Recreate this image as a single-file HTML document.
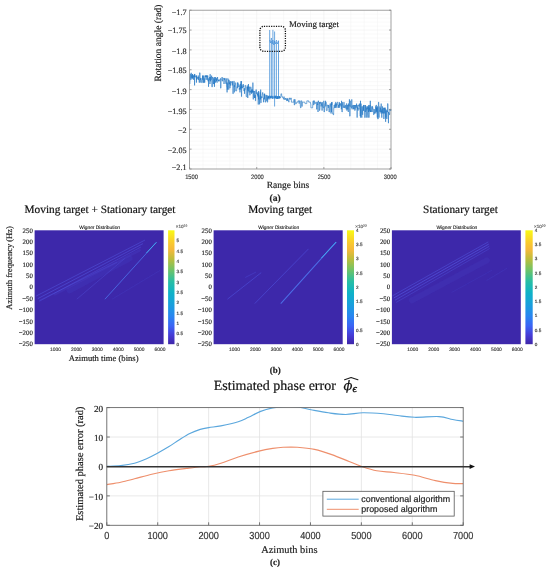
<!DOCTYPE html>
<html><head><meta charset="utf-8"><title>Figure</title>
<style>html,body{margin:0;padding:0;background:#fff;} svg{display:block;} text{text-rendering:geometricPrecision;}</style></head>
<body><svg width="550" height="573" viewBox="0 0 550 573">
<rect width="550" height="573" fill="#fff"/>
<line x1="203.03" y1="10.2" x2="203.03" y2="169.0" stroke="#f3f3f3" stroke-width="0.5"/>
<line x1="216.45" y1="10.2" x2="216.45" y2="169.0" stroke="#f3f3f3" stroke-width="0.5"/>
<line x1="229.88" y1="10.2" x2="229.88" y2="169.0" stroke="#f3f3f3" stroke-width="0.5"/>
<line x1="243.31" y1="10.2" x2="243.31" y2="169.0" stroke="#f3f3f3" stroke-width="0.5"/>
<line x1="270.16" y1="10.2" x2="270.16" y2="169.0" stroke="#f3f3f3" stroke-width="0.5"/>
<line x1="283.59" y1="10.2" x2="283.59" y2="169.0" stroke="#f3f3f3" stroke-width="0.5"/>
<line x1="297.01" y1="10.2" x2="297.01" y2="169.0" stroke="#f3f3f3" stroke-width="0.5"/>
<line x1="310.44" y1="10.2" x2="310.44" y2="169.0" stroke="#f3f3f3" stroke-width="0.5"/>
<line x1="337.29" y1="10.2" x2="337.29" y2="169.0" stroke="#f3f3f3" stroke-width="0.5"/>
<line x1="350.72" y1="10.2" x2="350.72" y2="169.0" stroke="#f3f3f3" stroke-width="0.5"/>
<line x1="364.15" y1="10.2" x2="364.15" y2="169.0" stroke="#f3f3f3" stroke-width="0.5"/>
<line x1="377.57" y1="10.2" x2="377.57" y2="169.0" stroke="#f3f3f3" stroke-width="0.5"/>
<line x1="189.6" y1="14.17" x2="391.0" y2="14.17" stroke="#f3f3f3" stroke-width="0.5"/>
<line x1="189.6" y1="18.14" x2="391.0" y2="18.14" stroke="#f3f3f3" stroke-width="0.5"/>
<line x1="189.6" y1="22.11" x2="391.0" y2="22.11" stroke="#f3f3f3" stroke-width="0.5"/>
<line x1="189.6" y1="26.08" x2="391.0" y2="26.08" stroke="#f3f3f3" stroke-width="0.5"/>
<line x1="189.6" y1="34.02" x2="391.0" y2="34.02" stroke="#f3f3f3" stroke-width="0.5"/>
<line x1="189.6" y1="37.99" x2="391.0" y2="37.99" stroke="#f3f3f3" stroke-width="0.5"/>
<line x1="189.6" y1="41.96" x2="391.0" y2="41.96" stroke="#f3f3f3" stroke-width="0.5"/>
<line x1="189.6" y1="45.93" x2="391.0" y2="45.93" stroke="#f3f3f3" stroke-width="0.5"/>
<line x1="189.6" y1="53.87" x2="391.0" y2="53.87" stroke="#f3f3f3" stroke-width="0.5"/>
<line x1="189.6" y1="57.84" x2="391.0" y2="57.84" stroke="#f3f3f3" stroke-width="0.5"/>
<line x1="189.6" y1="61.81" x2="391.0" y2="61.81" stroke="#f3f3f3" stroke-width="0.5"/>
<line x1="189.6" y1="65.78" x2="391.0" y2="65.78" stroke="#f3f3f3" stroke-width="0.5"/>
<line x1="189.6" y1="73.72" x2="391.0" y2="73.72" stroke="#f3f3f3" stroke-width="0.5"/>
<line x1="189.6" y1="77.69" x2="391.0" y2="77.69" stroke="#f3f3f3" stroke-width="0.5"/>
<line x1="189.6" y1="81.66" x2="391.0" y2="81.66" stroke="#f3f3f3" stroke-width="0.5"/>
<line x1="189.6" y1="85.63" x2="391.0" y2="85.63" stroke="#f3f3f3" stroke-width="0.5"/>
<line x1="189.6" y1="93.57" x2="391.0" y2="93.57" stroke="#f3f3f3" stroke-width="0.5"/>
<line x1="189.6" y1="97.54" x2="391.0" y2="97.54" stroke="#f3f3f3" stroke-width="0.5"/>
<line x1="189.6" y1="101.51" x2="391.0" y2="101.51" stroke="#f3f3f3" stroke-width="0.5"/>
<line x1="189.6" y1="105.48" x2="391.0" y2="105.48" stroke="#f3f3f3" stroke-width="0.5"/>
<line x1="189.6" y1="113.42" x2="391.0" y2="113.42" stroke="#f3f3f3" stroke-width="0.5"/>
<line x1="189.6" y1="117.39" x2="391.0" y2="117.39" stroke="#f3f3f3" stroke-width="0.5"/>
<line x1="189.6" y1="121.36" x2="391.0" y2="121.36" stroke="#f3f3f3" stroke-width="0.5"/>
<line x1="189.6" y1="125.33" x2="391.0" y2="125.33" stroke="#f3f3f3" stroke-width="0.5"/>
<line x1="189.6" y1="133.27" x2="391.0" y2="133.27" stroke="#f3f3f3" stroke-width="0.5"/>
<line x1="189.6" y1="137.24" x2="391.0" y2="137.24" stroke="#f3f3f3" stroke-width="0.5"/>
<line x1="189.6" y1="141.21" x2="391.0" y2="141.21" stroke="#f3f3f3" stroke-width="0.5"/>
<line x1="189.6" y1="145.18" x2="391.0" y2="145.18" stroke="#f3f3f3" stroke-width="0.5"/>
<line x1="189.6" y1="153.12" x2="391.0" y2="153.12" stroke="#f3f3f3" stroke-width="0.5"/>
<line x1="189.6" y1="157.09" x2="391.0" y2="157.09" stroke="#f3f3f3" stroke-width="0.5"/>
<line x1="189.6" y1="161.06" x2="391.0" y2="161.06" stroke="#f3f3f3" stroke-width="0.5"/>
<line x1="189.6" y1="165.03" x2="391.0" y2="165.03" stroke="#f3f3f3" stroke-width="0.5"/>
<line x1="256.73" y1="10.2" x2="256.73" y2="169.0" stroke="#eeeeee" stroke-width="0.6"/>
<line x1="323.87" y1="10.2" x2="323.87" y2="169.0" stroke="#eeeeee" stroke-width="0.6"/>
<line x1="189.6" y1="30.05" x2="391.0" y2="30.05" stroke="#eeeeee" stroke-width="0.6"/>
<line x1="189.6" y1="49.90" x2="391.0" y2="49.90" stroke="#eeeeee" stroke-width="0.6"/>
<line x1="189.6" y1="69.75" x2="391.0" y2="69.75" stroke="#eeeeee" stroke-width="0.6"/>
<line x1="189.6" y1="89.60" x2="391.0" y2="89.60" stroke="#eeeeee" stroke-width="0.6"/>
<line x1="189.6" y1="109.45" x2="391.0" y2="109.45" stroke="#eeeeee" stroke-width="0.6"/>
<line x1="189.6" y1="129.30" x2="391.0" y2="129.30" stroke="#eeeeee" stroke-width="0.6"/>
<line x1="189.6" y1="149.15" x2="391.0" y2="149.15" stroke="#eeeeee" stroke-width="0.6"/>
<polyline points="189.60,84.00 189.73,84.00 189.87,84.00 190.00,78.40 190.14,74.20 190.27,74.20 190.41,74.20 190.54,74.20 190.67,79.80 190.81,79.80 190.94,79.80 191.08,79.80 191.21,72.80 191.35,78.40 191.48,75.60 191.62,75.60 191.75,75.60 191.88,75.60 192.02,75.60 192.15,75.60 192.29,74.20 192.42,78.40 192.56,74.20 192.69,78.40 192.82,78.40 192.96,75.60 193.09,75.60 193.23,75.60 193.36,79.80 193.50,77.00 193.63,75.60 193.77,75.60 193.90,75.60 194.03,75.60 194.17,77.00 194.30,77.00 194.44,74.20 194.57,85.40 194.71,74.20 194.84,74.20 194.97,77.00 195.11,77.00 195.24,77.00 195.38,77.00 195.51,77.00 195.65,77.00 195.78,77.00 195.91,75.60 196.05,75.60 196.18,75.60 196.32,77.00 196.45,82.60 196.59,75.60 196.72,79.80 196.86,79.80 196.99,78.40 197.12,77.00 197.26,78.40 197.39,78.40 197.53,78.40 197.66,78.40 197.80,78.40 197.93,78.40 198.06,78.40 198.20,75.60 198.33,75.60 198.47,79.80 198.60,79.80 198.74,77.00 198.87,79.80 199.00,79.80 199.14,79.80 199.27,82.60 199.41,78.40 199.54,72.80 199.68,72.80 199.81,72.80 199.95,72.80 200.08,72.80 200.21,82.60 200.35,78.40 200.48,79.80 200.62,78.40 200.75,78.40 200.89,78.40 201.02,78.40 201.15,78.40 201.29,78.40 201.42,79.80 201.56,82.60 201.69,82.60 201.83,82.60 201.96,82.60 202.10,82.60 202.23,82.60 202.36,78.40 202.50,78.40 202.63,75.60 202.77,79.80 202.90,75.60 203.04,79.80 203.17,82.60 203.30,82.60 203.44,82.60 203.57,82.60 203.71,77.00 203.84,75.60 203.98,82.60 204.11,78.40 204.24,78.40 204.38,79.80 204.51,79.80 204.65,82.60 204.78,82.60 204.92,78.40 205.05,75.60 205.19,75.60 205.32,75.60 205.45,75.60 205.59,77.00 205.72,77.00 205.86,75.60 205.99,75.60 206.13,79.80 206.26,75.60 206.39,75.60 206.53,75.60 206.66,75.60 206.80,77.00 206.93,75.60 207.07,75.60 207.20,79.80 207.34,79.80 207.47,79.80 207.60,75.60 207.74,75.60 207.87,75.60 208.01,81.20 208.14,81.20 208.28,81.20 208.41,79.80 208.54,86.80 208.68,78.40 208.81,78.40 208.95,79.80 209.08,79.80 209.22,79.80 209.35,79.80 209.48,79.80 209.62,77.00 209.75,77.00 209.89,84.00 210.02,84.00 210.16,74.20 210.29,81.20 210.43,81.20 210.56,81.20 210.69,77.00 210.83,79.80 210.96,79.80 211.10,79.80 211.23,79.80 211.37,77.00 211.50,77.00 211.63,75.60 211.77,86.80 211.90,86.80 212.04,86.80 212.17,86.80 212.31,86.80 212.44,86.80 212.57,77.00 212.71,77.00 212.84,78.40 212.98,78.40 213.11,78.40 213.25,78.40 213.38,84.00 213.52,84.00 213.65,84.00 213.78,84.00 213.92,78.40 214.05,84.00 214.19,84.00 214.32,77.00 214.46,86.80 214.59,79.80 214.72,79.80 214.86,79.80 214.99,79.80 215.13,81.20 215.26,81.20 215.40,81.20 215.53,82.60 215.67,77.00 215.80,79.80 215.93,78.40 216.07,78.40 216.20,79.80 216.34,81.20 216.47,81.20 216.61,78.40 216.74,81.20 216.87,81.20 217.01,82.60 217.14,82.60 217.28,79.80 217.41,79.80 217.55,77.00 217.68,78.40 217.81,79.80 217.95,79.80 218.08,79.80 218.22,79.80 218.35,81.20 218.49,81.20 218.62,79.80 218.76,79.80 218.89,81.20 219.02,81.20 219.16,81.20 219.29,81.20 219.43,79.80 219.56,79.80 219.70,79.80 219.83,79.80 219.96,79.80 220.10,79.80 220.23,79.80 220.37,78.40 220.50,78.40 220.64,88.20 220.77,88.20 220.91,88.20 221.04,81.20 221.17,81.20 221.31,79.80 221.44,79.80 221.58,79.80 221.71,79.80 221.85,78.40 221.98,78.40 222.11,77.00 222.25,79.80 222.38,79.80 222.52,81.20 222.65,81.20 222.79,79.80 222.92,78.40 223.05,78.40 223.19,78.40 223.32,78.40 223.46,78.40 223.59,78.40 223.73,78.40 223.86,78.40 224.00,84.00 224.13,82.60 224.26,78.40 224.40,78.40 224.53,79.80 224.67,78.40 224.80,78.40 224.94,78.40 225.07,78.40 225.20,78.40 225.34,81.20 225.47,81.20 225.61,81.20 225.74,82.60 225.88,82.60 226.01,82.60 226.14,84.00 226.28,78.40 226.41,84.00 226.55,84.00 226.68,86.80 226.82,86.80 226.95,86.80 227.09,92.40 227.22,82.60 227.35,89.60 227.49,89.60 227.62,84.00 227.76,84.00 227.89,78.40 228.03,79.80 228.16,79.80 228.29,79.80 228.43,79.80 228.56,85.40 228.70,89.60 228.83,89.60 228.97,79.80 229.10,81.20 229.24,81.20 229.37,84.00 229.50,84.00 229.64,82.60 229.77,82.60 229.91,88.20 230.04,88.20 230.18,81.20 230.31,85.40 230.44,85.40 230.58,85.40 230.71,85.40 230.85,82.60 230.98,82.60 231.12,81.20 231.25,82.60 231.38,82.60 231.52,82.60 231.65,82.60 231.79,82.60 231.92,82.60 232.06,82.60 232.19,82.60 232.33,85.40 232.46,84.00 232.59,81.20 232.73,86.80 232.86,86.80 233.00,93.80 233.13,93.80 233.27,86.80 233.40,86.80 233.53,86.80 233.67,84.00 233.80,81.20 233.94,81.20 234.07,81.20 234.21,81.20 234.34,92.40 234.47,85.40 234.61,86.80 234.74,85.40 234.88,85.40 235.01,85.40 235.15,82.60 235.28,82.60 235.42,85.40 235.55,85.40 235.68,91.00 235.82,91.00 235.95,91.00 236.09,91.00 236.22,91.00 236.36,91.00 236.49,91.00 236.62,91.00 236.76,86.80 236.89,86.80 237.03,86.80 237.16,86.80 237.30,82.60 237.43,88.20 237.57,88.20 237.70,85.40 237.83,82.60 237.97,82.60 238.10,84.00 238.24,84.00 238.37,84.00 238.51,84.00 238.64,86.80 238.77,86.80 238.91,86.80 239.04,86.80 239.18,85.40 239.31,89.60 239.45,88.20 239.58,88.20 239.71,88.20 239.85,88.20 239.98,92.40 240.12,84.00 240.25,84.00 240.39,84.00 240.52,84.00 240.66,89.60 240.79,86.80 240.92,88.20 241.06,81.20 241.19,88.20 241.33,81.20 241.46,96.60 241.60,96.60 241.73,85.40 241.86,86.80 242.00,86.80 242.13,86.80 242.27,86.80 242.40,86.80 242.54,88.20 242.67,85.40 242.81,85.40 242.94,85.40 243.07,85.40 243.21,84.00 243.34,85.40 243.48,86.80 243.61,86.80 243.75,85.40 243.88,91.00 244.01,91.00 244.15,91.00 244.28,91.00 244.42,88.20 244.55,93.80 244.69,89.60 244.82,89.60 244.95,89.60 245.09,89.60 245.22,89.60 245.36,85.40 245.49,85.40 245.63,85.40 245.76,85.40 245.90,85.40 246.03,86.80 246.16,96.60 246.30,96.60 246.43,96.60 246.57,96.60 246.70,96.60 246.84,96.60 246.97,96.60 247.10,86.80 247.24,86.80 247.37,88.20 247.51,89.60 247.64,86.80 247.78,98.00 247.91,85.40 248.04,86.80 248.18,91.00 248.31,85.40 248.45,84.00 248.58,88.20 248.72,88.20 248.85,88.20 248.99,92.40 249.12,88.20 249.25,86.80 249.39,86.80 249.52,86.80 249.66,89.60 249.79,95.20 249.93,95.20 250.06,95.20 250.19,91.00 250.33,92.40 250.46,92.40 250.60,89.60 250.73,86.80 250.87,86.80 251.00,88.20 251.14,88.20 251.27,89.60 251.40,89.60 251.54,93.80 251.67,89.60 251.81,92.40 251.94,92.40 252.08,91.00 252.21,92.40 252.34,89.60 252.48,89.60 252.61,89.60 252.75,92.40 252.88,82.60 253.02,93.80 253.15,93.80 253.28,99.40 253.42,91.00 253.55,91.00 253.69,91.00 253.82,91.00 253.96,96.60 254.09,96.60 254.23,96.60 254.36,96.60 254.49,98.00 254.63,91.00 254.76,91.00 254.90,91.00 255.03,98.00 255.17,95.20 255.30,95.20 255.43,100.80 255.57,100.80 255.70,100.80 255.84,91.00 255.97,89.60 256.11,89.60 256.24,89.60 256.38,91.00 256.51,91.00 256.64,93.80 256.78,93.80 256.91,92.40 257.05,93.80 257.18,93.80 257.32,95.20 257.45,95.20 257.58,93.80 257.72,93.80 257.85,95.20 257.99,96.60 258.12,92.40 258.26,104.54 258.39,95.20 258.52,99.40 258.66,91.00 258.79,95.20 258.93,95.20 259.06,95.20 259.20,95.20 259.33,98.00 259.47,98.00 259.60,104.36 259.73,96.60 259.87,96.60 260.00,96.60 260.14,92.40 260.27,92.40 260.41,95.20 260.54,99.40 260.67,89.60 260.81,98.00 260.94,102.92 261.08,96.60 261.21,96.60 261.35,96.60 261.48,96.60 261.61,98.00 261.75,98.00 261.88,98.00 262.02,98.00 262.15,95.20 262.29,93.80 262.42,93.80 262.56,93.80 262.69,92.40 262.82,93.80 262.96,93.80 263.09,98.00 263.23,98.00 263.36,98.00 263.50,102.20 263.63,102.20 263.76,98.00 263.90,98.00 264.03,98.00 264.17,98.00 264.30,93.80 264.44,99.40 264.57,93.80 264.71,93.80 264.84,95.20 264.97,95.20 265.11,95.20 265.24,102.20 265.38,102.20 265.51,102.20 265.65,102.20 265.78,96.60 265.91,95.20 266.05,95.20 266.18,95.20 266.32,95.20 266.45,95.20 266.59,98.00 266.72,100.80 266.85,100.80 266.99,100.80 267.12,95.20 267.26,102.20 267.39,102.20 267.53,102.20 267.66,102.20 267.80,96.60 267.93,96.60 268.06,99.40 268.20,96.60 268.33,96.60 268.47,98.26 268.60,96.40 268.74,97.89 268.87,95.76 269.00,96.90 269.14,97.06 269.27,98.24 269.41,98.06 269.54,97.19 269.68,95.71 269.81,96.85 269.95,96.70 270.08,98.56 270.21,97.62 270.35,96.80 270.48,96.68 270.62,97.90 270.75,95.89 270.89,98.05 271.02,97.62 271.15,96.92 271.29,97.75 271.42,96.82 271.56,96.06 271.69,96.88 271.83,95.79 271.96,95.90 272.09,96.96 272.23,98.13 272.36,96.27 272.50,97.16 272.63,98.60 272.77,98.15 272.90,98.38 273.04,97.70 273.17,97.45 273.30,97.43 273.44,97.50 273.57,97.09 273.71,96.79 273.84,96.42 273.98,95.91 274.11,96.83 274.24,98.03 274.38,97.39 274.51,96.22 274.65,98.18 274.78,95.87 274.92,98.54 275.05,97.71 275.18,97.42 275.32,97.00 275.45,98.24 275.59,95.79 275.72,95.82 275.86,97.34 275.99,96.68 276.13,96.99 276.26,97.40 276.39,95.93 276.53,98.75 276.66,97.84 276.80,96.11 276.93,98.03 277.07,97.42 277.20,97.89 277.33,98.05 277.47,98.81 277.60,96.20 277.74,98.84 277.87,97.28 278.01,96.46 278.14,96.98 278.28,96.96 278.41,98.56 278.54,97.45 278.68,96.08 278.81,98.03 278.95,97.38 279.08,98.34 279.22,96.04 279.35,98.50 279.48,96.60 279.62,96.60 279.75,96.60 279.89,96.60 280.02,98.00 280.16,98.00 280.29,98.00 280.42,98.00 280.56,98.00 280.69,96.60 280.83,96.60 280.96,93.80 281.10,93.80 281.23,93.80 281.37,93.80 281.50,93.80 281.63,93.80 281.77,96.60 281.90,96.60 282.04,96.60 282.17,96.60 282.31,96.60 282.44,96.60 282.57,96.60 282.71,98.00 282.84,98.00 282.98,98.00 283.11,98.00 283.25,98.00 283.38,98.00 283.52,98.00 283.65,98.00 283.78,98.00 283.92,99.40 284.05,96.60 284.19,99.40 284.32,99.40 284.46,99.40 284.59,99.40 284.72,99.40 284.86,99.40 284.99,99.40 285.13,99.40 285.26,99.40 285.40,99.40 285.53,99.40 285.66,98.00 285.80,99.40 285.93,99.40 286.07,99.40 286.20,99.40 286.34,99.40 286.47,99.40 286.61,99.40 286.74,100.80 286.87,100.80 287.01,100.80 287.14,98.00 287.28,100.80 287.41,99.40 287.55,99.40 287.68,99.40 287.81,99.40 287.95,99.40 288.08,99.40 288.22,100.80 288.35,100.80 288.49,100.80 288.62,100.80 288.75,100.80 288.89,102.20 289.02,98.00 289.16,98.00 289.29,98.00 289.43,98.00 289.56,98.00 289.70,99.40 289.83,99.40 289.96,99.40 290.10,99.40 290.23,99.40 290.37,99.40 290.50,99.40 290.64,98.00 290.77,98.00 290.90,98.00 291.04,98.00 291.17,98.00 291.31,98.00 291.44,102.20 291.58,102.20 291.71,102.20 291.85,102.20 291.98,102.20 292.11,102.20 292.25,102.20 292.38,102.20 292.52,102.20 292.65,102.20 292.79,102.20 292.92,102.20 293.05,102.20 293.19,102.20 293.32,102.20 293.46,102.20 293.59,102.20 293.73,102.20 293.86,102.20 293.99,99.40 294.13,99.40 294.26,105.00 294.40,105.00 294.53,105.00 294.67,105.00 294.80,99.40 294.94,99.40 295.07,99.40 295.20,102.20 295.34,102.20 295.47,103.60 295.61,103.60 295.74,103.60 295.88,103.60 296.01,103.60 296.14,103.60 296.28,103.60 296.41,103.60 296.55,103.60 296.68,102.20 296.82,102.20 296.95,102.20 297.08,102.20 297.22,102.20 297.35,102.20 297.49,102.20 297.62,102.20 297.76,102.20 297.89,102.20 298.03,100.80 298.16,100.80 298.29,100.80 298.43,100.80 298.56,100.80 298.70,100.80 298.83,100.80 298.97,102.20 299.10,103.60 299.23,103.60 299.37,100.80 299.50,100.80 299.64,100.80 299.77,100.80 299.91,100.80 300.04,100.80 300.18,100.80 300.31,106.40 300.44,106.40 300.58,107.80 300.71,107.80 300.85,107.80 300.98,107.80 301.12,100.80 301.25,100.80 301.38,100.80 301.52,100.80 301.65,100.80 301.79,100.80 301.92,106.40 302.06,106.40 302.19,106.40 302.32,102.20 302.46,102.20 302.59,102.20 302.73,102.20 302.86,102.20 303.00,102.20 303.13,102.20 303.27,102.20 303.40,102.20 303.53,102.20 303.67,102.20 303.80,102.20 303.94,102.20 304.07,102.20 304.21,102.20 304.34,102.20 304.47,102.20 304.61,102.20 304.74,102.20 304.88,102.20 305.01,103.60 305.15,103.60 305.28,103.60 305.42,103.60 305.55,103.60 305.68,103.60 305.82,103.60 305.95,103.60 306.09,103.60 306.22,103.60 306.36,103.60 306.49,103.60 306.62,103.60 306.76,103.60 306.89,100.80 307.03,100.80 307.16,100.80 307.30,100.80 307.43,100.80 307.56,100.80 307.70,100.80 307.83,100.80 307.97,100.80 308.10,100.80 308.24,100.80 308.37,100.80 308.51,100.80 308.64,100.80 308.77,102.20 308.91,102.20 309.04,102.20 309.18,102.20 309.31,102.20 309.45,102.20 309.58,102.20 309.71,102.20 309.85,102.20 309.98,102.20 310.12,102.20 310.25,102.20 310.39,102.20 310.52,103.60 310.65,103.60 310.79,103.60 310.92,107.80 311.06,107.80 311.19,107.80 311.33,107.80 311.46,107.80 311.60,107.80 311.73,107.80 311.86,107.80 312.00,107.80 312.13,107.80 312.27,107.80 312.40,107.80 312.54,107.80 312.67,107.80 312.80,102.20 312.94,102.20 313.07,100.80 313.21,100.80 313.34,100.80 313.48,100.80 313.61,105.00 313.75,105.00 313.88,105.00 314.01,100.80 314.15,100.80 314.28,100.80 314.42,100.80 314.55,103.60 314.69,103.60 314.82,103.60 314.95,103.60 315.09,103.60 315.22,103.60 315.36,103.60 315.49,103.60 315.63,102.20 315.76,102.20 315.89,102.20 316.03,102.20 316.16,102.20 316.30,102.20 316.43,102.20 316.57,109.20 316.70,109.20 316.84,109.20 316.97,109.20 317.10,102.20 317.24,102.20 317.37,102.20 317.51,102.20 317.64,105.00 317.78,105.00 317.91,103.60 318.04,112.00 318.18,100.80 318.31,100.80 318.45,100.80 318.58,102.20 318.72,102.20 318.85,102.20 318.99,102.20 319.12,102.20 319.25,103.60 319.39,102.20 319.52,110.60 319.66,110.60 319.79,109.20 319.93,109.20 320.06,102.20 320.19,102.20 320.33,102.20 320.46,102.20 320.60,102.20 320.73,102.20 320.87,103.60 321.00,102.20 321.13,106.40 321.27,105.00 321.40,105.00 321.54,103.60 321.67,103.60 321.81,103.60 321.94,103.60 322.08,110.60 322.21,102.20 322.34,102.20 322.48,105.00 322.61,106.40 322.75,106.40 322.88,106.40 323.02,107.80 323.15,107.80 323.28,107.80 323.42,107.80 323.55,107.80 323.69,107.80 323.82,100.80 323.96,103.60 324.09,112.00 324.22,112.00 324.36,112.00 324.49,106.40 324.63,106.40 324.76,106.40 324.90,103.60 325.03,103.60 325.17,103.60 325.30,103.60 325.43,103.60 325.57,100.80 325.70,102.20 325.84,106.40 325.97,102.20 326.11,107.80 326.24,107.80 326.37,110.60 326.51,110.60 326.64,110.60 326.78,110.60 326.91,110.60 327.05,110.60 327.18,110.60 327.32,105.00 327.45,105.00 327.58,105.00 327.72,105.00 327.85,105.00 327.99,105.00 328.12,105.00 328.26,107.80 328.39,107.80 328.52,107.80 328.66,105.00 328.79,105.00 328.93,112.00 329.06,112.00 329.20,112.00 329.33,112.00 329.46,112.00 329.60,106.40 329.73,106.40 329.87,106.40 330.00,105.00 330.14,103.60 330.27,103.60 330.41,106.40 330.54,106.40 330.67,106.40 330.81,106.40 330.94,113.40 331.08,113.40 331.21,103.60 331.35,112.00 331.48,102.20 331.61,105.00 331.75,105.00 331.88,105.00 332.02,102.20 332.15,102.20 332.29,113.40 332.42,113.40 332.56,113.40 332.69,113.40 332.82,113.40 332.96,113.40 333.09,113.40 333.23,114.80 333.36,114.80 333.50,114.80 333.63,114.80 333.76,107.80 333.90,107.80 334.03,107.80 334.17,105.00 334.30,105.00 334.44,107.80 334.57,107.80 334.70,107.80 334.84,107.80 334.97,107.80 335.11,103.60 335.24,107.80 335.38,107.80 335.51,107.80 335.65,102.20 335.78,102.20 335.91,102.20 336.05,106.40 336.18,106.40 336.32,103.60 336.45,103.60 336.59,103.60 336.72,107.80 336.85,107.80 336.99,107.80 337.12,107.80 337.26,103.60 337.39,102.20 337.53,102.20 337.66,102.20 337.79,102.20 337.93,102.20 338.06,105.00 338.20,105.00 338.33,105.00 338.47,105.00 338.60,107.80 338.74,105.00 338.87,105.00 339.00,105.00 339.14,105.00 339.27,107.80 339.41,102.20 339.54,105.00 339.68,105.00 339.81,105.00 339.94,103.60 340.08,106.40 340.21,103.60 340.35,103.60 340.48,103.60 340.62,103.60 340.75,103.60 340.89,105.00 341.02,105.00 341.15,105.00 341.29,109.20 341.42,109.20 341.56,100.80 341.69,106.40 341.83,106.40 341.96,112.00 342.09,112.00 342.23,112.00 342.36,102.20 342.50,103.60 342.63,105.00 342.77,105.00 342.90,106.40 343.03,106.40 343.17,106.40 343.30,107.80 343.44,106.40 343.57,106.40 343.71,106.40 343.84,102.20 343.98,102.20 344.11,102.20 344.24,107.80 344.38,107.80 344.51,107.80 344.65,107.80 344.78,106.40 344.92,106.40 345.05,107.80 345.18,105.00 345.32,105.00 345.45,106.40 345.59,106.40 345.72,106.40 345.86,107.80 345.99,107.80 346.13,109.20 346.26,109.20 346.39,103.60 346.53,103.60 346.66,103.60 346.80,103.60 346.93,110.60 347.07,105.00 347.20,105.00 347.33,105.00 347.47,109.20 347.60,109.20 347.74,109.20 347.87,109.20 348.01,109.20 348.14,105.00 348.27,112.00 348.41,103.60 348.54,103.60 348.68,105.00 348.81,105.00 348.95,105.00 349.08,106.40 349.22,105.00 349.35,99.40 349.48,99.40 349.62,103.60 349.75,116.20 349.89,116.20 350.02,116.20 350.16,100.80 350.29,100.80 350.42,106.40 350.56,106.40 350.69,106.40 350.83,106.40 350.96,106.40 351.10,106.40 351.23,107.80 351.36,107.80 351.50,107.80 351.63,107.80 351.77,99.40 351.90,105.00 352.04,109.20 352.17,109.20 352.31,106.40 352.44,106.40 352.57,106.40 352.71,106.40 352.84,106.40 352.98,105.00 353.11,107.80 353.25,107.80 353.38,107.80 353.51,107.80 353.65,109.20 353.78,105.00 353.92,105.00 354.05,109.20 354.19,109.20 354.32,106.40 354.46,106.40 354.59,105.00 354.72,106.40 354.86,110.60 354.99,110.60 355.13,109.20 355.26,109.20 355.40,109.20 355.53,105.00 355.66,105.00 355.80,107.80 355.93,107.80 356.07,107.80 356.20,107.80 356.34,105.00 356.47,105.00 356.60,103.60 356.74,106.40 356.87,106.40 357.01,105.00 357.14,117.60 357.28,106.40 357.41,107.80 357.55,107.80 357.68,107.80 357.81,109.20 357.95,107.80 358.08,110.60 358.22,105.00 358.35,105.00 358.49,105.00 358.62,105.00 358.75,105.00 358.89,105.00 359.02,106.40 359.16,106.40 359.29,106.40 359.43,103.60 359.56,109.20 359.69,109.20 359.83,109.20 359.96,109.20 360.10,109.20 360.23,116.20 360.37,106.40 360.50,100.80 360.64,117.60 360.77,117.60 360.90,107.80 361.04,103.60 361.17,110.60 361.31,110.60 361.44,110.60 361.58,114.80 361.71,114.80 361.84,117.60 361.98,106.40 362.11,110.60 362.25,110.60 362.38,110.60 362.52,110.60 362.65,114.80 362.79,107.80 362.92,106.40 363.05,106.40 363.19,106.40 363.32,110.60 363.46,110.60 363.59,105.00 363.73,105.00 363.86,110.60 363.99,110.60 364.13,105.00 364.26,110.60 364.40,110.60 364.53,110.60 364.67,110.60 364.80,117.60 364.93,117.60 365.07,110.60 365.20,110.60 365.34,112.00 365.47,105.00 365.61,107.80 365.74,107.80 365.88,110.60 366.01,106.40 366.14,106.40 366.28,117.60 366.41,109.20 366.55,109.20 366.68,109.20 366.82,107.80 366.95,107.80 367.08,107.80 367.22,109.20 367.35,106.40 367.49,106.40 367.62,114.80 367.76,114.80 367.89,117.60 368.03,112.00 368.16,112.00 368.29,106.40 368.43,110.60 368.56,112.00 368.70,105.00 368.83,105.00 368.97,117.60 369.10,112.00 369.23,107.80 369.37,110.60 369.50,106.40 369.64,106.40 369.77,106.40 369.91,105.00 370.04,105.00 370.17,112.00 370.31,100.80 370.44,112.00 370.58,112.00 370.71,110.60 370.85,110.60 370.98,112.00 371.12,112.00 371.25,110.60 371.38,110.60 371.52,110.60 371.65,110.60 371.79,106.40 371.92,109.20 372.06,112.00 372.19,112.00 372.32,109.20 372.46,106.40 372.59,106.40 372.73,107.80 372.86,109.20 373.00,109.20 373.13,109.20 373.26,109.20 373.40,109.20 373.53,112.00 373.67,114.80 373.80,114.80 373.94,113.40 374.07,113.40 374.21,113.40 374.34,109.20 374.47,113.40 374.61,113.40 374.74,113.40 374.88,113.40 375.01,112.00 375.15,112.00 375.28,112.00 375.41,112.00 375.55,109.20 375.68,106.40 375.82,106.40 375.95,113.40 376.09,105.00 376.22,105.00 376.36,105.00 376.49,110.60 376.62,107.80 376.76,112.00 376.89,107.80 377.03,107.80 377.16,116.20 377.30,117.60 377.43,117.60 377.56,106.40 377.70,119.00 377.83,119.00 377.97,119.00 378.10,119.00 378.24,119.00 378.37,106.40 378.50,102.20 378.64,102.20 378.77,102.20 378.91,113.40 379.04,117.60 379.18,110.60 379.31,110.60 379.45,110.60 379.58,110.60 379.71,110.60 379.85,110.60 379.98,106.40 380.12,112.00 380.25,110.60 380.39,107.80 380.52,110.60 380.65,110.60 380.79,112.00 380.92,112.00 381.06,113.40 381.19,103.60 381.33,112.00 381.46,110.60 381.60,112.00 381.73,117.60 381.86,117.60 382.00,109.20 382.13,109.20 382.27,109.20 382.40,113.40 382.54,106.40 382.67,107.80 382.80,112.00 382.94,112.00 383.07,112.00 383.21,112.00 383.34,113.40 383.48,107.80 383.61,109.20 383.74,109.20 383.88,119.00 384.01,112.00 384.15,110.60 384.28,109.20 384.42,113.40 384.55,107.80 384.69,109.20 384.82,107.80 384.95,107.80 385.09,107.80 385.22,107.80 385.36,107.80 385.49,110.60 385.63,121.80 385.76,109.20 385.89,117.60 386.03,110.60 386.16,110.60 386.30,110.60 386.43,110.60 386.57,110.60 386.70,113.40 386.83,119.00 386.97,113.40 387.10,110.60 387.24,112.00 387.37,112.00 387.51,112.00 387.64,103.60 387.78,103.60 387.91,103.60 388.04,110.60 388.18,112.00 388.31,113.40 388.45,123.20 388.58,112.00 388.72,113.40 388.85,113.40 388.98,113.40 389.12,113.40 389.25,113.40 389.39,114.80 389.52,114.80 389.66,114.80 389.79,109.20 389.93,109.20 390.06,110.60 390.19,110.60 390.33,109.20 390.46,109.20 390.60,109.20 390.73,110.60 390.87,110.60 391.00,109.20" fill="none" stroke="#2277c4" stroke-width="0.62" stroke-linejoin="miter"/>
<line x1="269.7" y1="30.0" x2="269.7" y2="99.5" stroke="#3a8ad6" stroke-width="0.75"/>
<line x1="271.4" y1="41.0" x2="271.4" y2="98.5" stroke="#3a8ad6" stroke-width="0.75"/>
<line x1="272.9" y1="29.8" x2="272.9" y2="99.0" stroke="#3a8ad6" stroke-width="0.75"/>
<line x1="274.6" y1="31.5" x2="274.6" y2="106.5" stroke="#3a8ad6" stroke-width="0.75"/>
<line x1="276.4" y1="42.0" x2="276.4" y2="99.0" stroke="#3a8ad6" stroke-width="0.75"/>
<line x1="278.5" y1="40.5" x2="278.5" y2="98.0" stroke="#3a8ad6" stroke-width="0.75"/>
<polyline points="269.7,40 270.5,43 271.4,38 272.2,44 272.9,40 273.8,45 274.6,41 275.5,44 276.4,40 277.4,44 278.5,41" fill="none" stroke="#3a8ad6" stroke-width="0.6"/>
<rect x="189.6" y="10.2" width="201.40" height="158.80" fill="none" stroke="#8a8a8a" stroke-width="0.8"/>
<line x1="189.6" y1="10.20" x2="191.6" y2="10.20" stroke="#8a8a8a" stroke-width="0.8"/>
<line x1="389.0" y1="10.20" x2="391.0" y2="10.20" stroke="#8a8a8a" stroke-width="0.8"/>
<text x="186.6" y="14.60" text-anchor="end" font-family="'Liberation Serif', 'Times New Roman', serif" font-size="8.2" fill="#2a2a2a" stroke="#2a2a2a" stroke-width="0.18">−1.7</text>
<line x1="189.6" y1="30.05" x2="191.6" y2="30.05" stroke="#8a8a8a" stroke-width="0.8"/>
<line x1="389.0" y1="30.05" x2="391.0" y2="30.05" stroke="#8a8a8a" stroke-width="0.8"/>
<text x="186.6" y="32.80" text-anchor="end" font-family="'Liberation Serif', 'Times New Roman', serif" font-size="8.2" fill="#2a2a2a" stroke="#2a2a2a" stroke-width="0.18">−1.75</text>
<line x1="189.6" y1="49.90" x2="191.6" y2="49.90" stroke="#8a8a8a" stroke-width="0.8"/>
<line x1="389.0" y1="49.90" x2="391.0" y2="49.90" stroke="#8a8a8a" stroke-width="0.8"/>
<text x="186.6" y="53.90" text-anchor="end" font-family="'Liberation Serif', 'Times New Roman', serif" font-size="8.2" fill="#2a2a2a" stroke="#2a2a2a" stroke-width="0.18">−1.8</text>
<line x1="189.6" y1="69.75" x2="191.6" y2="69.75" stroke="#8a8a8a" stroke-width="0.8"/>
<line x1="389.0" y1="69.75" x2="391.0" y2="69.75" stroke="#8a8a8a" stroke-width="0.8"/>
<text x="186.6" y="73.40" text-anchor="end" font-family="'Liberation Serif', 'Times New Roman', serif" font-size="8.2" fill="#2a2a2a" stroke="#2a2a2a" stroke-width="0.18">−1.85</text>
<line x1="189.6" y1="89.60" x2="191.6" y2="89.60" stroke="#8a8a8a" stroke-width="0.8"/>
<line x1="389.0" y1="89.60" x2="391.0" y2="89.60" stroke="#8a8a8a" stroke-width="0.8"/>
<text x="186.6" y="93.90" text-anchor="end" font-family="'Liberation Serif', 'Times New Roman', serif" font-size="8.2" fill="#2a2a2a" stroke="#2a2a2a" stroke-width="0.18">−1.9</text>
<line x1="189.6" y1="109.45" x2="191.6" y2="109.45" stroke="#8a8a8a" stroke-width="0.8"/>
<line x1="389.0" y1="109.45" x2="391.0" y2="109.45" stroke="#8a8a8a" stroke-width="0.8"/>
<text x="186.6" y="114.00" text-anchor="end" font-family="'Liberation Serif', 'Times New Roman', serif" font-size="8.2" fill="#2a2a2a" stroke="#2a2a2a" stroke-width="0.18">−1.95</text>
<line x1="189.6" y1="129.30" x2="191.6" y2="129.30" stroke="#8a8a8a" stroke-width="0.8"/>
<line x1="389.0" y1="129.30" x2="391.0" y2="129.30" stroke="#8a8a8a" stroke-width="0.8"/>
<text x="186.6" y="133.40" text-anchor="end" font-family="'Liberation Serif', 'Times New Roman', serif" font-size="8.2" fill="#2a2a2a" stroke="#2a2a2a" stroke-width="0.18">−2</text>
<line x1="189.6" y1="149.15" x2="191.6" y2="149.15" stroke="#8a8a8a" stroke-width="0.8"/>
<line x1="389.0" y1="149.15" x2="391.0" y2="149.15" stroke="#8a8a8a" stroke-width="0.8"/>
<text x="186.6" y="153.10" text-anchor="end" font-family="'Liberation Serif', 'Times New Roman', serif" font-size="8.2" fill="#2a2a2a" stroke="#2a2a2a" stroke-width="0.18">−2.05</text>
<line x1="189.6" y1="169.00" x2="191.6" y2="169.00" stroke="#8a8a8a" stroke-width="0.8"/>
<line x1="389.0" y1="169.00" x2="391.0" y2="169.00" stroke="#8a8a8a" stroke-width="0.8"/>
<text x="186.6" y="170.30" text-anchor="end" font-family="'Liberation Serif', 'Times New Roman', serif" font-size="8.2" fill="#2a2a2a" stroke="#2a2a2a" stroke-width="0.18">−2.1</text>
<line x1="189.60" y1="169.0" x2="189.60" y2="167.0" stroke="#8a8a8a" stroke-width="0.8"/>
<text transform="translate(191.60,178.5) scale(1,1.12)" text-anchor="middle" font-family="'Liberation Sans', Arial, sans-serif" font-size="5.8" fill="#333" stroke="#333" stroke-width="0.12">1500</text>
<line x1="256.73" y1="169.0" x2="256.73" y2="167.0" stroke="#8a8a8a" stroke-width="0.8"/>
<text transform="translate(257.40,178.5) scale(1,1.12)" text-anchor="middle" font-family="'Liberation Sans', Arial, sans-serif" font-size="5.8" fill="#333" stroke="#333" stroke-width="0.12">2000</text>
<line x1="323.87" y1="169.0" x2="323.87" y2="167.0" stroke="#8a8a8a" stroke-width="0.8"/>
<text transform="translate(324.10,178.5) scale(1,1.12)" text-anchor="middle" font-family="'Liberation Sans', Arial, sans-serif" font-size="5.8" fill="#333" stroke="#333" stroke-width="0.12">2500</text>
<line x1="391.00" y1="169.0" x2="391.00" y2="167.0" stroke="#8a8a8a" stroke-width="0.8"/>
<text transform="translate(390.20,178.5) scale(1,1.12)" text-anchor="middle" font-family="'Liberation Sans', Arial, sans-serif" font-size="5.8" fill="#333" stroke="#333" stroke-width="0.12">3000</text>
<text transform="translate(160.8,43.1) rotate(-90)" text-anchor="middle" font-family="'Liberation Serif', 'Times New Roman', serif" font-size="9.55" fill="#222" stroke="#222" stroke-width="0.18">Rotation angle (rad)</text>
<text x="288" y="187.6" text-anchor="middle" font-family="'Liberation Serif', 'Times New Roman', serif" font-size="9.5" fill="#222" stroke="#222" stroke-width="0.18">Range bins</text>
<text x="275.2" y="200.5" text-anchor="middle" font-family="'Liberation Serif', 'Times New Roman', serif" font-weight="bold" font-size="9.6" fill="#222" stroke="#222" stroke-width="0.18">(a)</text>
<rect x="259.9" y="26.3" width="25.5" height="25" rx="4" fill="none" stroke="#111" stroke-width="1.3" stroke-dasharray="1.2 1.2"/>
<text x="289" y="27.1" font-family="'Liberation Serif', 'Times New Roman', serif" font-size="8.8" fill="#222" stroke="#222" stroke-width="0.18">Moving target</text>
<defs><linearGradient id="par" x1="0" y1="1" x2="0" y2="0"><stop offset="0.0" stop-color="rgb(62, 38, 168)"/><stop offset="0.08" stop-color="rgb(70, 60, 215)"/><stop offset="0.16" stop-color="rgb(60, 100, 245)"/><stop offset="0.25" stop-color="rgb(40, 135, 240)"/><stop offset="0.35" stop-color="rgb(25, 160, 220)"/><stop offset="0.45" stop-color="rgb(15, 178, 200)"/><stop offset="0.55" stop-color="rgb(40, 190, 165)"/><stop offset="0.65" stop-color="rgb(110, 195, 105)"/><stop offset="0.75" stop-color="rgb(190, 190, 60)"/><stop offset="0.83" stop-color="rgb(245, 185, 60)"/><stop offset="0.9" stop-color="rgb(250, 205, 45)"/><stop offset="1.0" stop-color="rgb(249, 250, 20)"/></linearGradient><filter id="blur1" x="-5%" y="-5%" width="110%" height="110%"><feGaussianBlur stdDeviation="0.45"/></filter></defs>
<rect x="34.6" y="230.3" width="129.00" height="113.90" fill="#3d28aa"/>
<g filter="url(#blur1)">
<line x1="36.60" y1="295.80" x2="144.60" y2="240.30" stroke="#5a66f2" stroke-width="0.85" stroke-opacity="0.45" stroke-linecap="round"/>
<line x1="38.10" y1="298.50" x2="142.60" y2="243.80" stroke="#5a66f2" stroke-width="0.85" stroke-opacity="0.5" stroke-linecap="round"/>
<line x1="39.60" y1="301.10" x2="140.60" y2="247.20" stroke="#5a66f2" stroke-width="0.85" stroke-opacity="0.38" stroke-linecap="round"/>
<line x1="39.60" y1="300.30" x2="116.60" y2="262.30" stroke="#5a66f2" stroke-width="0.8" stroke-opacity="0.3" stroke-linecap="round"/>
<line x1="77.10" y1="298.90" x2="124.40" y2="258.70" stroke="#5a66f2" stroke-width="0.8" stroke-opacity="0.35" stroke-linecap="round"/>
<line x1="112.60" y1="298.90" x2="159.90" y2="270.50" stroke="#4a55e0" stroke-width="0.8" stroke-opacity="0.22" stroke-linecap="round"/>
<line x1="69.60" y1="290.30" x2="129.60" y2="258.30" stroke="#4a55e0" stroke-width="6.0" stroke-opacity="0.12" stroke-linecap="round"/>
<line x1="54.60" y1="294.30" x2="139.60" y2="250.30" stroke="#5a66f2" stroke-width="2.5" stroke-opacity="0.12" stroke-linecap="round"/>
<line x1="105.20" y1="298.90" x2="156.10" y2="242.60" stroke="#4f7ef5" stroke-width="1.0" stroke-opacity="0.7" stroke-linecap="round"/>
<line x1="146.60" y1="252.80" x2="156.10" y2="242.60" stroke="#40b4f0" stroke-width="1.0" stroke-opacity="0.85" stroke-linecap="round"/>
</g>
<text transform="translate(32.80,232.50) scale(1,1)" text-anchor="end" font-family="'Liberation Serif', 'Times New Roman', serif" font-size="6.8" fill="#2a2a2a" stroke="#2a2a2a" stroke-width="0.18">250</text>
<text transform="translate(32.80,243.89) scale(1,1)" text-anchor="end" font-family="'Liberation Serif', 'Times New Roman', serif" font-size="6.8" fill="#2a2a2a" stroke="#2a2a2a" stroke-width="0.18">200</text>
<text transform="translate(32.80,255.28) scale(1,1)" text-anchor="end" font-family="'Liberation Serif', 'Times New Roman', serif" font-size="6.8" fill="#2a2a2a" stroke="#2a2a2a" stroke-width="0.18">150</text>
<text transform="translate(32.80,266.67) scale(1,1)" text-anchor="end" font-family="'Liberation Serif', 'Times New Roman', serif" font-size="6.8" fill="#2a2a2a" stroke="#2a2a2a" stroke-width="0.18">100</text>
<text transform="translate(32.80,278.06) scale(1,1)" text-anchor="end" font-family="'Liberation Serif', 'Times New Roman', serif" font-size="6.8" fill="#2a2a2a" stroke="#2a2a2a" stroke-width="0.18">50</text>
<text transform="translate(32.80,289.45) scale(1,1)" text-anchor="end" font-family="'Liberation Serif', 'Times New Roman', serif" font-size="6.8" fill="#2a2a2a" stroke="#2a2a2a" stroke-width="0.18">0</text>
<text transform="translate(32.80,300.84) scale(1,1)" text-anchor="end" font-family="'Liberation Serif', 'Times New Roman', serif" font-size="6.8" fill="#2a2a2a" stroke="#2a2a2a" stroke-width="0.18">−50</text>
<text transform="translate(32.80,312.23) scale(1,1)" text-anchor="end" font-family="'Liberation Serif', 'Times New Roman', serif" font-size="6.8" fill="#2a2a2a" stroke="#2a2a2a" stroke-width="0.18">−100</text>
<text transform="translate(32.80,323.62) scale(1,1)" text-anchor="end" font-family="'Liberation Serif', 'Times New Roman', serif" font-size="6.8" fill="#2a2a2a" stroke="#2a2a2a" stroke-width="0.18">−150</text>
<text transform="translate(32.80,335.01) scale(1,1)" text-anchor="end" font-family="'Liberation Serif', 'Times New Roman', serif" font-size="6.8" fill="#2a2a2a" stroke="#2a2a2a" stroke-width="0.18">−200</text>
<text transform="translate(32.80,346.40) scale(1,1)" text-anchor="end" font-family="'Liberation Serif', 'Times New Roman', serif" font-size="6.8" fill="#2a2a2a" stroke="#2a2a2a" stroke-width="0.18">−250</text>
<text x="55.50" y="351.2" text-anchor="middle" font-family="'Liberation Sans', Arial, sans-serif" font-size="4.9" fill="#333" stroke="#333" stroke-width="0.12">1000</text>
<text x="76.40" y="351.2" text-anchor="middle" font-family="'Liberation Sans', Arial, sans-serif" font-size="4.9" fill="#333" stroke="#333" stroke-width="0.12">2000</text>
<text x="97.30" y="351.2" text-anchor="middle" font-family="'Liberation Sans', Arial, sans-serif" font-size="4.9" fill="#333" stroke="#333" stroke-width="0.12">3000</text>
<text x="118.20" y="351.2" text-anchor="middle" font-family="'Liberation Sans', Arial, sans-serif" font-size="4.9" fill="#333" stroke="#333" stroke-width="0.12">4000</text>
<text x="139.10" y="351.2" text-anchor="middle" font-family="'Liberation Sans', Arial, sans-serif" font-size="4.9" fill="#333" stroke="#333" stroke-width="0.12">5000</text>
<text x="160.00" y="351.2" text-anchor="middle" font-family="'Liberation Sans', Arial, sans-serif" font-size="4.9" fill="#333" stroke="#333" stroke-width="0.12">6000</text>
<text x="99.60" y="228.6" text-anchor="middle" font-family="'Liberation Sans', Arial, sans-serif" font-size="4.85" fill="#111" stroke="#111" stroke-width="0.1">Wigner Distribution</text>
<rect x="168.1" y="230.3" width="6.40" height="113.90" fill="url(#par)"/>
<text x="176.60" y="345.80" font-family="'Liberation Sans', Arial, sans-serif" font-size="4.6" fill="#444" stroke="#444" stroke-width="0.18">0</text>
<text x="176.60" y="335.45" font-family="'Liberation Sans', Arial, sans-serif" font-size="4.6" fill="#444" stroke="#444" stroke-width="0.18">0.5</text>
<text x="176.60" y="325.09" font-family="'Liberation Sans', Arial, sans-serif" font-size="4.6" fill="#444" stroke="#444" stroke-width="0.18">1</text>
<text x="176.60" y="314.74" font-family="'Liberation Sans', Arial, sans-serif" font-size="4.6" fill="#444" stroke="#444" stroke-width="0.18">1.5</text>
<text x="176.60" y="304.38" font-family="'Liberation Sans', Arial, sans-serif" font-size="4.6" fill="#444" stroke="#444" stroke-width="0.18">2</text>
<text x="176.60" y="294.03" font-family="'Liberation Sans', Arial, sans-serif" font-size="4.6" fill="#444" stroke="#444" stroke-width="0.18">2.5</text>
<text x="176.60" y="283.67" font-family="'Liberation Sans', Arial, sans-serif" font-size="4.6" fill="#444" stroke="#444" stroke-width="0.18">3</text>
<text x="176.60" y="273.32" font-family="'Liberation Sans', Arial, sans-serif" font-size="4.6" fill="#444" stroke="#444" stroke-width="0.18">3.5</text>
<text x="176.60" y="262.96" font-family="'Liberation Sans', Arial, sans-serif" font-size="4.6" fill="#444" stroke="#444" stroke-width="0.18">4</text>
<text x="176.60" y="252.61" font-family="'Liberation Sans', Arial, sans-serif" font-size="4.6" fill="#444" stroke="#444" stroke-width="0.18">4.5</text>
<text x="176.60" y="242.25" font-family="'Liberation Sans', Arial, sans-serif" font-size="4.6" fill="#444" stroke="#444" stroke-width="0.18">5</text>
<text x="175.80" y="228.3" font-family="'Liberation Sans', Arial, sans-serif" font-size="4.6" fill="#666" stroke="#666" stroke-width="0.18">×10<tspan font-size="3.3" dy="-1.8">22</tspan></text>
<text x="100.00" y="212.8" text-anchor="middle" font-family="'Liberation Serif', 'Times New Roman', serif" font-size="11.3" fill="#111" stroke="#111" stroke-width="0.18">Moving target + Stationary target</text>
<rect x="213.6" y="230.3" width="129.10" height="113.90" fill="#3d28aa"/>
<g filter="url(#blur1)">
<line x1="281.00" y1="303.30" x2="335.90" y2="242.30" stroke="#4f7ef5" stroke-width="1.05" stroke-opacity="0.8" stroke-linecap="round"/>
<line x1="321.60" y1="257.80" x2="335.90" y2="242.30" stroke="#40b4f0" stroke-width="1.0" stroke-opacity="0.85" stroke-linecap="round"/>
<line x1="255.00" y1="303.30" x2="308.20" y2="249.20" stroke="#5560f0" stroke-width="0.85" stroke-opacity="0.5" stroke-linecap="round"/>
<line x1="227.80" y1="298.90" x2="260.90" y2="272.90" stroke="#5560f0" stroke-width="0.85" stroke-opacity="0.5" stroke-linecap="round"/>
<line x1="245.60" y1="277.30" x2="255.60" y2="272.30" stroke="#5560f0" stroke-width="0.8" stroke-opacity="0.35" stroke-linecap="round"/>
</g>
<text transform="translate(211.80,232.50) scale(1,1)" text-anchor="end" font-family="'Liberation Serif', 'Times New Roman', serif" font-size="6.8" fill="#2a2a2a" stroke="#2a2a2a" stroke-width="0.18">250</text>
<text transform="translate(211.80,243.89) scale(1,1)" text-anchor="end" font-family="'Liberation Serif', 'Times New Roman', serif" font-size="6.8" fill="#2a2a2a" stroke="#2a2a2a" stroke-width="0.18">200</text>
<text transform="translate(211.80,255.28) scale(1,1)" text-anchor="end" font-family="'Liberation Serif', 'Times New Roman', serif" font-size="6.8" fill="#2a2a2a" stroke="#2a2a2a" stroke-width="0.18">150</text>
<text transform="translate(211.80,266.67) scale(1,1)" text-anchor="end" font-family="'Liberation Serif', 'Times New Roman', serif" font-size="6.8" fill="#2a2a2a" stroke="#2a2a2a" stroke-width="0.18">100</text>
<text transform="translate(211.80,278.06) scale(1,1)" text-anchor="end" font-family="'Liberation Serif', 'Times New Roman', serif" font-size="6.8" fill="#2a2a2a" stroke="#2a2a2a" stroke-width="0.18">50</text>
<text transform="translate(211.80,289.45) scale(1,1)" text-anchor="end" font-family="'Liberation Serif', 'Times New Roman', serif" font-size="6.8" fill="#2a2a2a" stroke="#2a2a2a" stroke-width="0.18">0</text>
<text transform="translate(211.80,300.84) scale(1,1)" text-anchor="end" font-family="'Liberation Serif', 'Times New Roman', serif" font-size="6.8" fill="#2a2a2a" stroke="#2a2a2a" stroke-width="0.18">−50</text>
<text transform="translate(211.80,312.23) scale(1,1)" text-anchor="end" font-family="'Liberation Serif', 'Times New Roman', serif" font-size="6.8" fill="#2a2a2a" stroke="#2a2a2a" stroke-width="0.18">−100</text>
<text transform="translate(211.80,323.62) scale(1,1)" text-anchor="end" font-family="'Liberation Serif', 'Times New Roman', serif" font-size="6.8" fill="#2a2a2a" stroke="#2a2a2a" stroke-width="0.18">−150</text>
<text transform="translate(211.80,335.01) scale(1,1)" text-anchor="end" font-family="'Liberation Serif', 'Times New Roman', serif" font-size="6.8" fill="#2a2a2a" stroke="#2a2a2a" stroke-width="0.18">−200</text>
<text transform="translate(211.80,346.40) scale(1,1)" text-anchor="end" font-family="'Liberation Serif', 'Times New Roman', serif" font-size="6.8" fill="#2a2a2a" stroke="#2a2a2a" stroke-width="0.18">−250</text>
<text x="234.50" y="351.2" text-anchor="middle" font-family="'Liberation Sans', Arial, sans-serif" font-size="4.9" fill="#333" stroke="#333" stroke-width="0.12">1000</text>
<text x="255.40" y="351.2" text-anchor="middle" font-family="'Liberation Sans', Arial, sans-serif" font-size="4.9" fill="#333" stroke="#333" stroke-width="0.12">2000</text>
<text x="276.30" y="351.2" text-anchor="middle" font-family="'Liberation Sans', Arial, sans-serif" font-size="4.9" fill="#333" stroke="#333" stroke-width="0.12">3000</text>
<text x="297.20" y="351.2" text-anchor="middle" font-family="'Liberation Sans', Arial, sans-serif" font-size="4.9" fill="#333" stroke="#333" stroke-width="0.12">4000</text>
<text x="318.10" y="351.2" text-anchor="middle" font-family="'Liberation Sans', Arial, sans-serif" font-size="4.9" fill="#333" stroke="#333" stroke-width="0.12">5000</text>
<text x="339.00" y="351.2" text-anchor="middle" font-family="'Liberation Sans', Arial, sans-serif" font-size="4.9" fill="#333" stroke="#333" stroke-width="0.12">6000</text>
<text x="278.65" y="228.6" text-anchor="middle" font-family="'Liberation Sans', Arial, sans-serif" font-size="4.85" fill="#111" stroke="#111" stroke-width="0.1">Wigner Distribution</text>
<rect x="347.0" y="230.3" width="7.00" height="113.90" fill="url(#par)"/>
<text x="356.10" y="345.80" font-family="'Liberation Sans', Arial, sans-serif" font-size="4.6" fill="#444" stroke="#444" stroke-width="0.18">0</text>
<text x="356.10" y="331.56" font-family="'Liberation Sans', Arial, sans-serif" font-size="4.6" fill="#444" stroke="#444" stroke-width="0.18">0.5</text>
<text x="356.10" y="317.33" font-family="'Liberation Sans', Arial, sans-serif" font-size="4.6" fill="#444" stroke="#444" stroke-width="0.18">1</text>
<text x="356.10" y="303.09" font-family="'Liberation Sans', Arial, sans-serif" font-size="4.6" fill="#444" stroke="#444" stroke-width="0.18">1.5</text>
<text x="356.10" y="288.85" font-family="'Liberation Sans', Arial, sans-serif" font-size="4.6" fill="#444" stroke="#444" stroke-width="0.18">2</text>
<text x="356.10" y="274.61" font-family="'Liberation Sans', Arial, sans-serif" font-size="4.6" fill="#444" stroke="#444" stroke-width="0.18">2.5</text>
<text x="356.10" y="260.38" font-family="'Liberation Sans', Arial, sans-serif" font-size="4.6" fill="#444" stroke="#444" stroke-width="0.18">3</text>
<text x="356.10" y="246.14" font-family="'Liberation Sans', Arial, sans-serif" font-size="4.6" fill="#444" stroke="#444" stroke-width="0.18">3.5</text>
<text x="356.10" y="231.90" font-family="'Liberation Sans', Arial, sans-serif" font-size="4.6" fill="#444" stroke="#444" stroke-width="0.18">4</text>
<text x="355.30" y="228.3" font-family="'Liberation Sans', Arial, sans-serif" font-size="4.6" fill="#666" stroke="#666" stroke-width="0.18">×10<tspan font-size="3.3" dy="-1.8">22</tspan></text>
<text x="280.20" y="212.8" text-anchor="middle" font-family="'Liberation Serif', 'Times New Roman', serif" font-size="11.3" fill="#111" stroke="#111" stroke-width="0.18">Moving target</text>
<rect x="391.9" y="230.3" width="128.90" height="113.90" fill="#3d28aa"/>
<g filter="url(#blur1)">
<line x1="392.90" y1="295.60" x2="487.90" y2="242.10" stroke="#5a66f2" stroke-width="0.85" stroke-opacity="0.45" stroke-linecap="round"/>
<line x1="394.10" y1="297.80" x2="488.40" y2="244.30" stroke="#5a66f2" stroke-width="0.85" stroke-opacity="0.6" stroke-linecap="round"/>
<line x1="395.30" y1="300.00" x2="488.90" y2="246.50" stroke="#5a66f2" stroke-width="0.85" stroke-opacity="0.5" stroke-linecap="round"/>
<line x1="396.50" y1="302.20" x2="489.40" y2="248.70" stroke="#5a66f2" stroke-width="0.85" stroke-opacity="0.35" stroke-linecap="round"/>
<line x1="411.90" y1="300.30" x2="486.90" y2="260.30" stroke="#4a55e0" stroke-width="6.0" stroke-opacity="0.1" stroke-linecap="round"/>
<line x1="451.90" y1="292.30" x2="491.90" y2="270.30" stroke="#4a55e0" stroke-width="0.8" stroke-opacity="0.18" stroke-linecap="round"/>
<line x1="486.90" y1="280.30" x2="506.90" y2="268.30" stroke="#4a55e0" stroke-width="0.8" stroke-opacity="0.22" stroke-linecap="round"/>
</g>
<text transform="translate(390.10,232.50) scale(1,1)" text-anchor="end" font-family="'Liberation Serif', 'Times New Roman', serif" font-size="6.8" fill="#2a2a2a" stroke="#2a2a2a" stroke-width="0.18">250</text>
<text transform="translate(390.10,243.89) scale(1,1)" text-anchor="end" font-family="'Liberation Serif', 'Times New Roman', serif" font-size="6.8" fill="#2a2a2a" stroke="#2a2a2a" stroke-width="0.18">200</text>
<text transform="translate(390.10,255.28) scale(1,1)" text-anchor="end" font-family="'Liberation Serif', 'Times New Roman', serif" font-size="6.8" fill="#2a2a2a" stroke="#2a2a2a" stroke-width="0.18">150</text>
<text transform="translate(390.10,266.67) scale(1,1)" text-anchor="end" font-family="'Liberation Serif', 'Times New Roman', serif" font-size="6.8" fill="#2a2a2a" stroke="#2a2a2a" stroke-width="0.18">100</text>
<text transform="translate(390.10,278.06) scale(1,1)" text-anchor="end" font-family="'Liberation Serif', 'Times New Roman', serif" font-size="6.8" fill="#2a2a2a" stroke="#2a2a2a" stroke-width="0.18">50</text>
<text transform="translate(390.10,289.45) scale(1,1)" text-anchor="end" font-family="'Liberation Serif', 'Times New Roman', serif" font-size="6.8" fill="#2a2a2a" stroke="#2a2a2a" stroke-width="0.18">0</text>
<text transform="translate(390.10,300.84) scale(1,1)" text-anchor="end" font-family="'Liberation Serif', 'Times New Roman', serif" font-size="6.8" fill="#2a2a2a" stroke="#2a2a2a" stroke-width="0.18">−50</text>
<text transform="translate(390.10,312.23) scale(1,1)" text-anchor="end" font-family="'Liberation Serif', 'Times New Roman', serif" font-size="6.8" fill="#2a2a2a" stroke="#2a2a2a" stroke-width="0.18">−100</text>
<text transform="translate(390.10,323.62) scale(1,1)" text-anchor="end" font-family="'Liberation Serif', 'Times New Roman', serif" font-size="6.8" fill="#2a2a2a" stroke="#2a2a2a" stroke-width="0.18">−150</text>
<text transform="translate(390.10,335.01) scale(1,1)" text-anchor="end" font-family="'Liberation Serif', 'Times New Roman', serif" font-size="6.8" fill="#2a2a2a" stroke="#2a2a2a" stroke-width="0.18">−200</text>
<text transform="translate(390.10,346.40) scale(1,1)" text-anchor="end" font-family="'Liberation Serif', 'Times New Roman', serif" font-size="6.8" fill="#2a2a2a" stroke="#2a2a2a" stroke-width="0.18">−250</text>
<text x="412.80" y="351.2" text-anchor="middle" font-family="'Liberation Sans', Arial, sans-serif" font-size="4.9" fill="#333" stroke="#333" stroke-width="0.12">1000</text>
<text x="433.70" y="351.2" text-anchor="middle" font-family="'Liberation Sans', Arial, sans-serif" font-size="4.9" fill="#333" stroke="#333" stroke-width="0.12">2000</text>
<text x="454.60" y="351.2" text-anchor="middle" font-family="'Liberation Sans', Arial, sans-serif" font-size="4.9" fill="#333" stroke="#333" stroke-width="0.12">3000</text>
<text x="475.50" y="351.2" text-anchor="middle" font-family="'Liberation Sans', Arial, sans-serif" font-size="4.9" fill="#333" stroke="#333" stroke-width="0.12">4000</text>
<text x="496.40" y="351.2" text-anchor="middle" font-family="'Liberation Sans', Arial, sans-serif" font-size="4.9" fill="#333" stroke="#333" stroke-width="0.12">5000</text>
<text x="517.30" y="351.2" text-anchor="middle" font-family="'Liberation Sans', Arial, sans-serif" font-size="4.9" fill="#333" stroke="#333" stroke-width="0.12">6000</text>
<text x="456.85" y="228.6" text-anchor="middle" font-family="'Liberation Sans', Arial, sans-serif" font-size="4.85" fill="#111" stroke="#111" stroke-width="0.1">Wigner Distribution</text>
<rect x="525.4" y="230.3" width="7.30" height="113.90" fill="url(#par)"/>
<text x="534.80" y="345.80" font-family="'Liberation Sans', Arial, sans-serif" font-size="4.6" fill="#444" stroke="#444" stroke-width="0.18">0</text>
<text x="534.80" y="331.56" font-family="'Liberation Sans', Arial, sans-serif" font-size="4.6" fill="#444" stroke="#444" stroke-width="0.18">0.5</text>
<text x="534.80" y="317.33" font-family="'Liberation Sans', Arial, sans-serif" font-size="4.6" fill="#444" stroke="#444" stroke-width="0.18">1</text>
<text x="534.80" y="303.09" font-family="'Liberation Sans', Arial, sans-serif" font-size="4.6" fill="#444" stroke="#444" stroke-width="0.18">1.5</text>
<text x="534.80" y="288.85" font-family="'Liberation Sans', Arial, sans-serif" font-size="4.6" fill="#444" stroke="#444" stroke-width="0.18">2</text>
<text x="534.80" y="274.61" font-family="'Liberation Sans', Arial, sans-serif" font-size="4.6" fill="#444" stroke="#444" stroke-width="0.18">2.5</text>
<text x="534.80" y="260.38" font-family="'Liberation Sans', Arial, sans-serif" font-size="4.6" fill="#444" stroke="#444" stroke-width="0.18">3</text>
<text x="534.80" y="246.14" font-family="'Liberation Sans', Arial, sans-serif" font-size="4.6" fill="#444" stroke="#444" stroke-width="0.18">3.5</text>
<text x="534.80" y="231.90" font-family="'Liberation Sans', Arial, sans-serif" font-size="4.6" fill="#444" stroke="#444" stroke-width="0.18">4</text>
<text x="534.00" y="228.3" font-family="'Liberation Sans', Arial, sans-serif" font-size="4.6" fill="#666" stroke="#666" stroke-width="0.18">×10<tspan font-size="3.3" dy="-1.8">22</tspan></text>
<text x="460.50" y="212.8" text-anchor="middle" font-family="'Liberation Serif', 'Times New Roman', serif" font-size="11.3" fill="#111" stroke="#111" stroke-width="0.18">Stationary target</text>
<text transform="translate(12.4,267.9) rotate(-90)" text-anchor="middle" font-family="'Liberation Serif', 'Times New Roman', serif" font-size="8.5" fill="#222" stroke="#222" stroke-width="0.18">Azimuth frequency (Hz)</text>
<text x="103.7" y="361.2" text-anchor="middle" font-family="'Liberation Serif', 'Times New Roman', serif" font-size="8.6" fill="#222" stroke="#222" stroke-width="0.18">Azimuth time (bins)</text>
<text x="275.3" y="372.6" text-anchor="middle" font-family="'Liberation Serif', 'Times New Roman', serif" font-weight="bold" font-size="9" fill="#222" stroke="#222" stroke-width="0.18">(b)</text>
<text x="213.8" y="389.6" font-family="'Liberation Serif', 'Times New Roman', serif" font-size="14" fill="#111" stroke="#111" stroke-width="0.18">Estimated phase error</text>
<text x="343.6" y="389.8" font-family="'DejaVu Serif', serif" font-style="italic" font-size="13.2" fill="#111" stroke="#111" stroke-width="0.18">ϕ</text>
<text x="352.5" y="392.4" font-family="'Liberation Serif', 'Times New Roman', serif" font-style="italic" font-size="10.6" fill="#111" stroke="#111" stroke-width="0.4">ϵ</text>
<path d="M344.6,379.7 Q348.6,378.2 351.1,377.5 Q353.6,378.2 357.9,379.7" fill="none" stroke="#1a1a1a" stroke-width="1.1" stroke-linecap="round"/>
<line x1="157.71" y1="407.6" x2="157.71" y2="525.3" stroke="#e2e2e2" stroke-width="0.8"/>
<line x1="208.63" y1="407.6" x2="208.63" y2="525.3" stroke="#e2e2e2" stroke-width="0.8"/>
<line x1="259.54" y1="407.6" x2="259.54" y2="525.3" stroke="#e2e2e2" stroke-width="0.8"/>
<line x1="310.46" y1="407.6" x2="310.46" y2="525.3" stroke="#e2e2e2" stroke-width="0.8"/>
<line x1="361.37" y1="407.6" x2="361.37" y2="525.3" stroke="#e2e2e2" stroke-width="0.8"/>
<line x1="412.29" y1="407.6" x2="412.29" y2="525.3" stroke="#e2e2e2" stroke-width="0.8"/>
<line x1="106.8" y1="437.02" x2="463.2" y2="437.02" stroke="#e2e2e2" stroke-width="0.8"/>
<line x1="106.8" y1="466.45" x2="463.2" y2="466.45" stroke="#e2e2e2" stroke-width="0.8"/>
<line x1="106.8" y1="495.88" x2="463.2" y2="495.88" stroke="#e2e2e2" stroke-width="0.8"/>
<clipPath id="cclip"><rect x="106.8" y="407.6" width="356.4" height="117.69999999999993"/></clipPath>
<g clip-path="url(#cclip)">
<path d="M106.9,466.3 C109.20,466.18 116.10,466.12 120.7,465.6 C125.30,465.08 130.18,464.35 134.5,463.2 C138.82,462.05 142.85,460.32 146.6,458.7 C150.35,457.08 153.27,455.52 157,453.5 C160.73,451.48 165.27,448.90 169,446.6 C172.73,444.30 175.93,441.88 179.4,439.7 C182.87,437.52 186.33,435.22 189.8,433.5 C193.27,431.78 197.03,430.38 200.2,429.4 C203.37,428.42 205.35,428.18 208.8,427.6 C212.25,427.02 216.00,426.87 220.9,425.9 C225.80,424.93 233.60,423.23 238.2,421.8 C242.80,420.37 244.77,419.03 248.5,417.3 C252.23,415.57 256.57,412.97 260.6,411.4 C264.63,409.83 268.97,408.70 272.7,407.9 C276.43,407.10 278.90,406.77 283,406.6 C287.10,406.43 292.63,406.38 297.3,406.9 C301.97,407.42 305.82,408.72 311,409.7 C316.18,410.68 322.63,412.00 328.4,412.8 C334.17,413.60 339.85,414.50 345.6,414.5 C351.35,414.50 356.57,412.92 362.9,412.8 C369.23,412.68 377.85,413.35 383.6,413.8 C389.35,414.25 392.22,414.92 397.4,415.5 C402.58,416.08 407.78,417.12 414.7,417.3 C421.62,417.48 432.57,416.23 438.9,416.6 C445.23,416.97 448.65,418.73 452.7,419.5 C456.75,420.27 461.45,420.92 463.2,421.2" fill="none" stroke="#5ba7dd" stroke-width="1.15"/>
<path d="M106.9,484.6 C109.20,484.20 116.10,483.17 120.7,482.2 C125.30,481.23 129.32,480.12 134.5,478.8 C139.68,477.48 146.05,475.63 151.8,474.3 C157.55,472.97 163.23,471.78 169,470.8 C174.77,469.82 181.20,469.08 186.4,468.4 C191.60,467.72 196.47,467.05 200.2,466.7 C203.93,466.35 205.35,466.88 208.8,466.3 C212.25,465.72 216.00,464.75 220.9,463.2 C225.80,461.65 231.87,459.02 238.2,457 C244.53,454.98 253.15,452.53 258.9,451.1 C264.65,449.67 268.67,449.03 272.7,448.4 C276.73,447.77 279.00,447.48 283.1,447.3 C287.20,447.12 292.07,446.95 297.3,447.3 C302.53,447.65 308.75,448.18 314.5,449.4 C320.25,450.62 326.03,452.58 331.8,454.6 C337.57,456.62 344.20,459.55 349.1,461.5 C354.00,463.45 356.60,464.75 361.2,466.3 C365.80,467.85 371.23,469.77 376.7,470.8 C382.17,471.83 387.67,471.75 394,472.5 C400.33,473.25 407.80,473.95 414.7,475.3 C421.60,476.65 429.07,479.25 435.4,480.6 C441.73,481.95 448.07,482.90 452.7,483.4 C457.33,483.90 461.45,483.57 463.2,483.6" fill="none" stroke="#ee8f6c" stroke-width="1.15"/>
</g>
<rect x="106.8" y="407.6" width="356.40" height="117.70" fill="none" stroke="#666" stroke-width="0.9"/>
<line x1="106.8" y1="407.60" x2="109.8" y2="407.60" stroke="#666" stroke-width="0.9"/>
<line x1="460.2" y1="407.60" x2="463.2" y2="407.60" stroke="#666" stroke-width="0.9"/>
<text x="103.2" y="411.60" text-anchor="end" font-family="'Liberation Serif', 'Times New Roman', serif" font-size="9.2" fill="#222" stroke="#222" stroke-width="0.18">20</text>
<line x1="106.8" y1="437.02" x2="109.8" y2="437.02" stroke="#666" stroke-width="0.9"/>
<line x1="460.2" y1="437.02" x2="463.2" y2="437.02" stroke="#666" stroke-width="0.9"/>
<text x="103.2" y="441.02" text-anchor="end" font-family="'Liberation Serif', 'Times New Roman', serif" font-size="9.2" fill="#222" stroke="#222" stroke-width="0.18">10</text>
<line x1="106.8" y1="466.45" x2="109.8" y2="466.45" stroke="#666" stroke-width="0.9"/>
<line x1="460.2" y1="466.45" x2="463.2" y2="466.45" stroke="#666" stroke-width="0.9"/>
<text x="103.2" y="470.45" text-anchor="end" font-family="'Liberation Serif', 'Times New Roman', serif" font-size="9.2" fill="#222" stroke="#222" stroke-width="0.18">0</text>
<line x1="106.8" y1="495.88" x2="109.8" y2="495.88" stroke="#666" stroke-width="0.9"/>
<line x1="460.2" y1="495.88" x2="463.2" y2="495.88" stroke="#666" stroke-width="0.9"/>
<text x="103.2" y="499.88" text-anchor="end" font-family="'Liberation Serif', 'Times New Roman', serif" font-size="9.2" fill="#222" stroke="#222" stroke-width="0.18">−10</text>
<line x1="106.8" y1="525.30" x2="109.8" y2="525.30" stroke="#666" stroke-width="0.9"/>
<line x1="460.2" y1="525.30" x2="463.2" y2="525.30" stroke="#666" stroke-width="0.9"/>
<text x="103.2" y="529.30" text-anchor="end" font-family="'Liberation Serif', 'Times New Roman', serif" font-size="9.2" fill="#222" stroke="#222" stroke-width="0.18">−20</text>
<line x1="106.80" y1="525.3" x2="106.80" y2="522.3" stroke="#666" stroke-width="0.9"/>
<text transform="translate(106.80,538.8) scale(0.9,1)" text-anchor="middle" font-family="'Liberation Sans', Arial, sans-serif" font-size="10.2" fill="#333" stroke="#333" stroke-width="0.18">0</text>
<line x1="157.71" y1="525.3" x2="157.71" y2="522.3" stroke="#666" stroke-width="0.9"/>
<text transform="translate(157.71,538.8) scale(0.9,1)" text-anchor="middle" font-family="'Liberation Sans', Arial, sans-serif" font-size="10.2" fill="#333" stroke="#333" stroke-width="0.18">1000</text>
<line x1="208.63" y1="525.3" x2="208.63" y2="522.3" stroke="#666" stroke-width="0.9"/>
<text transform="translate(208.63,538.8) scale(0.9,1)" text-anchor="middle" font-family="'Liberation Sans', Arial, sans-serif" font-size="10.2" fill="#333" stroke="#333" stroke-width="0.18">2000</text>
<line x1="259.54" y1="525.3" x2="259.54" y2="522.3" stroke="#666" stroke-width="0.9"/>
<text transform="translate(259.54,538.8) scale(0.9,1)" text-anchor="middle" font-family="'Liberation Sans', Arial, sans-serif" font-size="10.2" fill="#333" stroke="#333" stroke-width="0.18">3000</text>
<line x1="310.46" y1="525.3" x2="310.46" y2="522.3" stroke="#666" stroke-width="0.9"/>
<text transform="translate(310.46,538.8) scale(0.9,1)" text-anchor="middle" font-family="'Liberation Sans', Arial, sans-serif" font-size="10.2" fill="#333" stroke="#333" stroke-width="0.18">4000</text>
<line x1="361.37" y1="525.3" x2="361.37" y2="522.3" stroke="#666" stroke-width="0.9"/>
<text transform="translate(361.37,538.8) scale(0.9,1)" text-anchor="middle" font-family="'Liberation Sans', Arial, sans-serif" font-size="10.2" fill="#333" stroke="#333" stroke-width="0.18">5000</text>
<line x1="412.29" y1="525.3" x2="412.29" y2="522.3" stroke="#666" stroke-width="0.9"/>
<text transform="translate(412.29,538.8) scale(0.9,1)" text-anchor="middle" font-family="'Liberation Sans', Arial, sans-serif" font-size="10.2" fill="#333" stroke="#333" stroke-width="0.18">6000</text>
<line x1="463.20" y1="525.3" x2="463.20" y2="522.3" stroke="#666" stroke-width="0.9"/>
<text transform="translate(463.20,538.8) scale(0.9,1)" text-anchor="middle" font-family="'Liberation Sans', Arial, sans-serif" font-size="10.2" fill="#333" stroke="#333" stroke-width="0.18">7000</text>
<line x1="106.8" y1="466.7" x2="470.5" y2="466.7" stroke="#333" stroke-width="1.6"/>
<path d="M469.6,464.2 L475,466.6 L469.6,469.0 Z" fill="#111"/>
<rect x="322.9" y="491.3" width="131.3" height="24.8" fill="#fff" stroke="#555" stroke-width="0.8"/>
<line x1="326.8" y1="499.2" x2="358.7" y2="499.2" stroke="#5ba7dd" stroke-width="1"/>
<line x1="326.8" y1="509.3" x2="358.7" y2="509.3" stroke="#ee8f6c" stroke-width="1"/>
<text x="361.3" y="502.2" font-family="'Liberation Sans', Arial, sans-serif" font-size="8.9" fill="#222" stroke="#222" stroke-width="0.18">conventional algorithm</text>
<text x="361.3" y="512.3" font-family="'Liberation Sans', Arial, sans-serif" font-size="8.9" fill="#222" stroke="#222" stroke-width="0.18">proposed algorithm</text>
<text transform="translate(82.6,463.8) rotate(-90)" text-anchor="middle" font-family="'Liberation Serif', 'Times New Roman', serif" font-size="10.5" fill="#222" stroke="#222" stroke-width="0.18">Estimated phase error (rad)</text>
<text x="289.3" y="552.7" text-anchor="middle" font-family="'Liberation Serif', 'Times New Roman', serif" font-size="10.4" fill="#222" stroke="#222" stroke-width="0.18">Azimuth bins</text>
<text x="275.1" y="565" text-anchor="middle" font-family="'Liberation Serif', 'Times New Roman', serif" font-weight="bold" font-size="9" fill="#222" stroke="#222" stroke-width="0.18">(c)</text>
</svg></body></html>
